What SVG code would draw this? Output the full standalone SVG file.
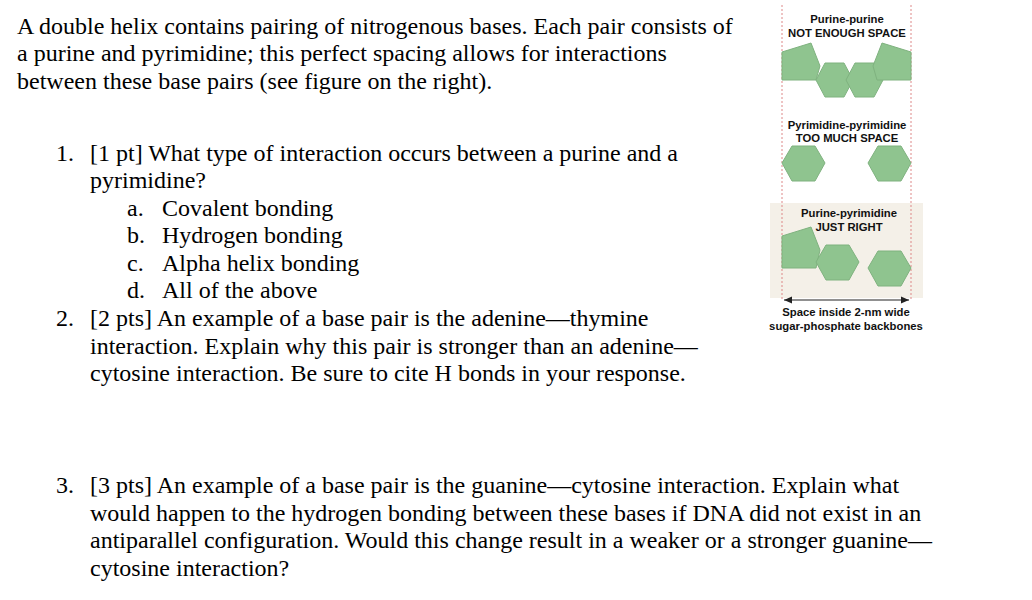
<svg xmlns="http://www.w3.org/2000/svg" width="1032" height="600" viewBox="0 0 1032 600">
<style>
.t{font-family:"Liberation Serif",serif;font-size:24px;fill:#000}
.s{font-family:"Liberation Sans",Arial,sans-serif;font-size:11.3px;font-weight:bold;fill:#111;text-anchor:middle}
.g{fill:#8fc48f;stroke:#7fb27f;stroke-width:1}
.d{stroke:#d88;stroke-width:1;stroke-dasharray:2,2}
</style>
<defs>
<marker id="a" markerWidth="8" markerHeight="8" refX="7" refY="4" orient="auto-start-reverse"><path d="M0,1 L7,4 L0,7z" fill="#222"/></marker>
</defs>
<rect width="1032" height="600" fill="#fff"/>
<g id="text">
<text class="t" x="17" y="34">A double helix contains pairing of nitrogenous bases. Each pair consists of</text>
<text class="t" x="17" y="61">a purine and pyrimidine; this perfect spacing allows for interactions</text>
<text class="t" x="17" y="89">between these base pairs (see figure on the right).</text>
<text class="t" x="56" y="161">1.</text><text class="t" x="90" y="161">[1 pt] What type of interaction occurs between a purine and a</text>
<text class="t" x="90" y="188">pyrimidine?</text>
<text class="t" x="127" y="216">a.</text><text class="t" x="162" y="216">Covalent bonding</text>
<text class="t" x="127" y="243">b.</text><text class="t" x="162" y="243">Hydrogen bonding</text>
<text class="t" x="127" y="271">c.</text><text class="t" x="162" y="271">Alpha helix bonding</text>
<text class="t" x="127" y="298">d.</text><text class="t" x="162" y="298">All of the above</text>
<text class="t" x="56" y="326">2.</text><text class="t" x="90" y="326">[2 pts] An example of a base pair is the adenine—thymine</text>
<text class="t" x="90" y="354">interaction. Explain why this pair is stronger than an adenine—</text>
<text class="t" x="90" y="381">cytosine interaction. Be sure to cite H bonds in your response.</text>
<text class="t" x="56" y="493">3.</text><text class="t" x="90" y="493">[3 pts] An example of a base pair is the guanine—cytosine interaction. Explain what</text>
<text class="t" x="90" y="521">would happen to the hydrogen bonding between these bases if DNA did not exist in an</text>
<text class="t" x="90" y="548">antiparallel configuration. Would this change result in a weaker or a stronger guanine—</text>
<text class="t" x="90" y="576">cytosine interaction?</text>
</g>
<g id="figure">
<rect x="770" y="203" width="153" height="95" fill="#f4f0e8"/>
<line class="d" x1="782" y1="5" x2="782" y2="300"/>
<line class="d" x1="911" y1="5" x2="911" y2="300"/>
<text class="s" x="847" y="23">Purine-purine</text>
<text class="s" x="847" y="37">NOT ENOUGH SPACE</text>
<polygon class="g" points="782,52 811,43 820,66 816,80 782,80"/>
<polygon class="g" points="816,80 825,63 844,63 853,80 844,97 825,97"/>
<polygon class="g" points="846,80 855,63 874,63 883,80 874,97 855,97"/>
<polygon class="g" points="911,52 882,43 873,66 877,80 911,80"/>
<text class="s" x="847" y="129">Pyrimidine-pyrimidine</text>
<text class="s" x="847" y="142">TOO MUCH SPACE</text>
<polygon class="g" points="782,163 792,146 815,146 825,163 815,181 792,181"/>
<polygon class="g" points="868,163 878,146 901,146 911,163 901,181 878,181"/>
<text class="s" x="849" y="217">Purine-pyrimidine</text>
<text class="s" x="849" y="231">JUST RIGHT</text>
<polygon class="g" points="782,236 811,227 820,250 816,268 782,268"/>
<polygon class="g" points="816,262 826,245 849,245 859,262 849,280 826,280"/>
<polygon class="g" points="868,268 878,251 901,251 911,268 901,286 878,286"/>
</g>
<g id="connectors">
<line x1="784" y1="300" x2="909" y2="300" stroke="#222" stroke-width="1.2" marker-start="url(#a)" marker-end="url(#a)"/>
</g>
<text class="s" x="846" y="316">Space inside 2-nm wide</text>
<text class="s" x="846" y="330">sugar-phosphate backbones</text>
</svg>
